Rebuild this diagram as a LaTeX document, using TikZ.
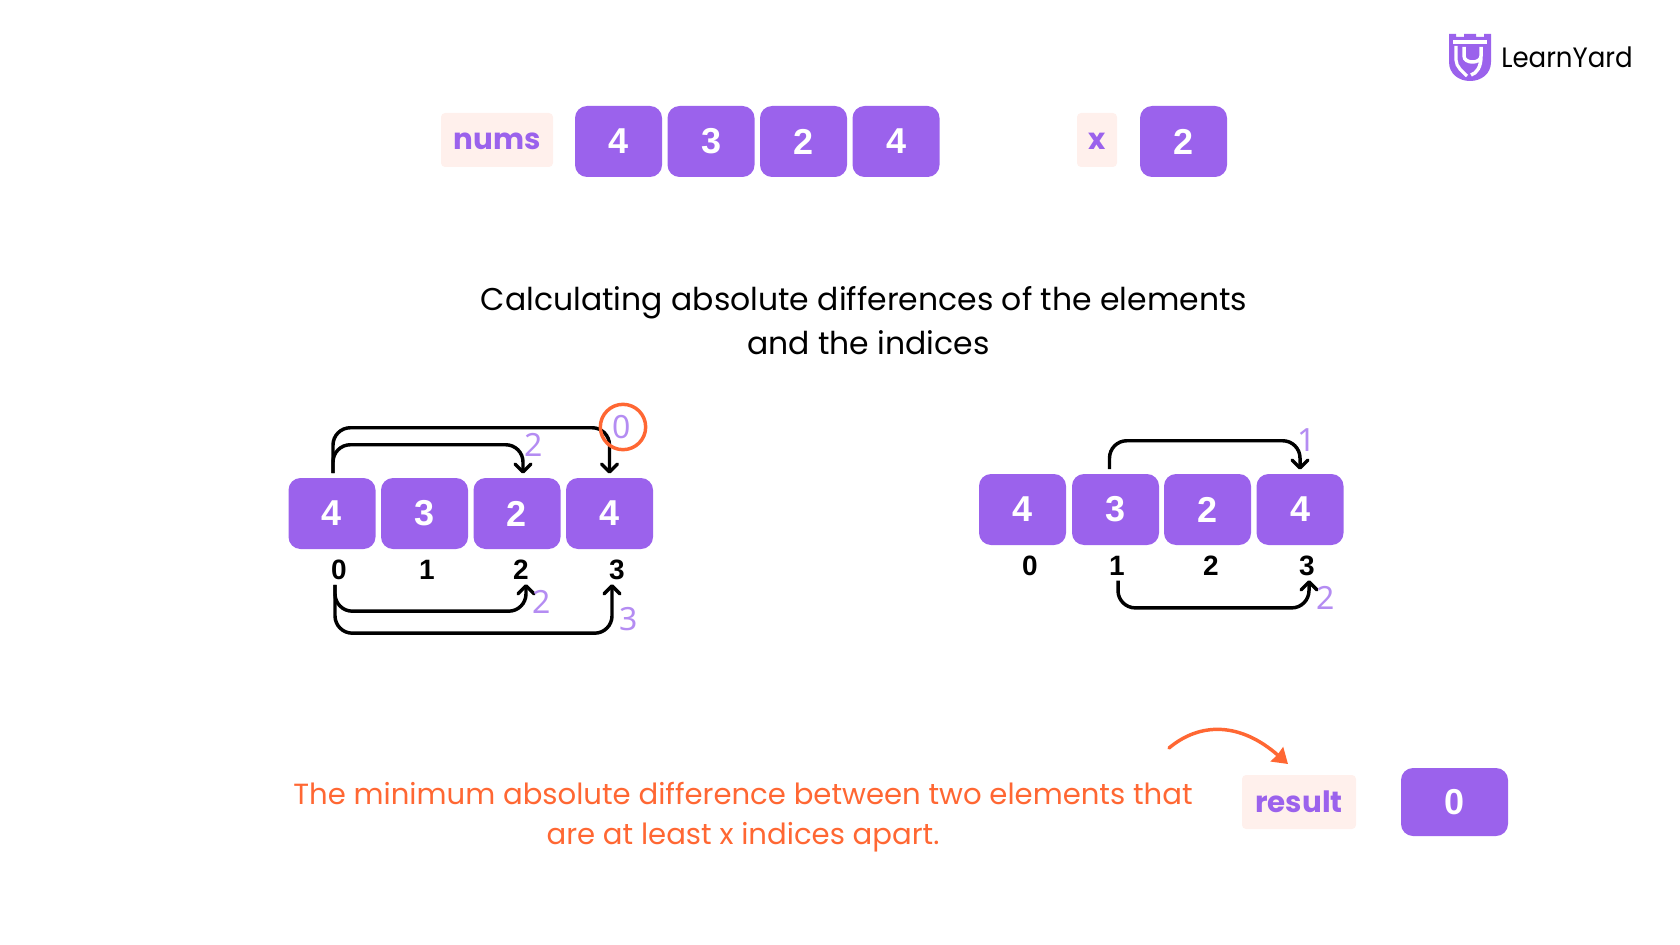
\documentclass[tikz,border=0pt]{standalone}
\usepackage{fontspec}
\setmainfont{Poppins}
\newfontfamily\numfont{Liberation Sans}
\newfontfamily\thinfont{Noto Sans}
\usetikzlibrary{arrows.meta}
\definecolor{cellpurple}{HTML}{9B62EC}
\definecolor{lightpurple}{HTML}{B48CF2}
\definecolor{tagpink}{HTML}{FFF0EC}
\definecolor{hotorange}{HTML}{FF6733}
\tikzset{
  cell/.style={fill=cellpurple,text=white,rounded corners=9pt,minimum width=65.25pt,minimum height=53.25pt,inner sep=0pt,font=\numfont\fontsize{27}{27}\selectfont\bfseries},
  tag/.style={fill=tagpink,text=cellpurple,rounded corners=3pt,minimum height=40.5pt,inner sep=0pt,text height=15pt,text depth=0pt,font=\fontsize{22}{22}\selectfont\bfseries},
  idx/.style={font=\numfont\fontsize{21}{21}\selectfont\bfseries,inner sep=0pt},
  diff/.style={text=lightpurple,font=\thinfont\fontsize{24}{24}\selectfont,inner sep=0pt},
  link/.style={line width=2.6pt,rounded corners=13pt,shorten >=3pt,shorten <=3.5pt,-{Straight Barb[length=6pt,width=12pt,round]}},
  note/.style={align=center,inner sep=0pt}
}
\begin{document}
\begin{tikzpicture}[x=0.75pt,y=-0.75pt]
\useasboundingbox (0,0) rectangle (1680,945);
% input row
\node[tag,minimum width=84pt] (numstag) at (497,140) {nums};
\foreach \i/\x/\v in {0/618.5/4,1/711/3,2/803.5/2,3/896/4}
  \node[cell] (top\i) at (\x,141.5) {\v};
\node[tag,minimum width=30pt] (xtag) at (1097,140) {x};
\node[cell] (xval) at (1183.5,141.5) {2};
% heading
\node[note,font=\fontsize{23.6}{33}\selectfont] (head) at (864,321)
  {Calculating absolute differences of the elements\\\hspace*{6.4pt}and the indices};
% left array
\foreach \i/\x/\v in {0/332/4,1/424.5/3,2/517/2,3/609.5/4}
  \node[cell] (a\i) at (\x,513.5) {\v};
\foreach \i/\x in {0/339,1/427,2/521,3/617}
  \node[idx] (ai\i) at (\x,570) {\i};
\draw[link] ([xshift=0.75pt]a0.north) -- ++(0,-50) -| (a3.north);
\draw[link] ([xshift=0.75pt]a0.north) -- ++(0,-33) -| ([xshift=4.5pt]a2.north);
\draw[link] ([xshift=-3pt]ai0.south) -- ++(0,31) -| ([xshift=3.75pt]ai2.south);
\draw[link] ([xshift=-3pt]ai0.south) -- ++(0,53) -| ([xshift=-3.75pt]ai3.south);
\node[diff] (d02) at (534,445) {2};
\node[diff] (d03) at (622,427) {0};
\node[draw=hotorange,line width=2.6pt,circle,minimum size=34pt,inner sep=0pt] (best) at (623,427) {};
\node[diff] (i02) at (542,602) {2};
\node[diff] (i03) at (629,619) {3};
% right array
\foreach \i/\x/\v in {0/1022.5/4,1/1115.5/3,2/1207.5/2,3/1300/4}
  \node[cell] (b\i) at (\x,509.5) {\v};
\foreach \i/\x in {0/1030,1/1117,2/1211,3/1307}
  \node[idx] (bi\i) at (\x,566) {\i};
\draw[link] ([xshift=-4.5pt]b1.north) -- ++(0,-33) -| (b3.north);
\draw[link] ([xshift=0.75pt]bi1.south) -- ++(0,32) -| ([xshift=1.5pt]bi3.south);
\node[diff] (d13) at (1307,440) {1};
\node[diff] (i13) at (1326,598) {2};
% result
\node[note,text=hotorange,font=\fontsize{21.85}{30}\selectfont] (msg) at (743,817)
  {The minimum absolute difference between two elements that\\are at least x indices apart.};
\node[tag,minimum width=85.5pt] (restag) at (1299,802) {result};
\node[cell,minimum width=80.25pt,minimum height=51pt] (resval) at (1454.5,802) {0};
\coordinate (curvefrom) at (1169,748);
\coordinate (curveto) at (1288,764);
\draw[hotorange,line width=2.6pt,line cap=round,-{Stealth[length=11pt,width=14pt,inset=0.5pt]}] (curvefrom) .. controls (1200,722) and (1240,722) .. (curveto);
% logo
\fill[cellpurple] (1449,34) -- (1456,34) -- (1456,37) -- (1464,37) -- (1464,34) -- (1476,34) -- (1476,37) -- (1484,37) -- (1484,34) -- (1491,34) -- (1491,62) .. controls (1491,74) and (1481,81) .. (1470,81) .. controls (1459,81) and (1449,74) .. (1449,62) -- cycle;
\fill[white] (1453,40) rectangle (1487,44);
\draw[white,line width=2.4pt] (1456,46) -- (1456,60) .. controls (1456,67) and (1463,72) .. (1467,76);
\draw[white,line width=2.6pt] (1464,47) -- (1464,56) .. controls (1464,64) and (1481,64) .. (1481,56) -- (1481,47) (1481,56) .. controls (1481,67) and (1477,73) .. (1471,75);
\node[inner sep=0pt,anchor=base west,xscale=0.93,font=\fontsize{21}{21}\selectfont] (brand) at (1501,68) {LearnYard};
\end{tikzpicture}
\end{document}
